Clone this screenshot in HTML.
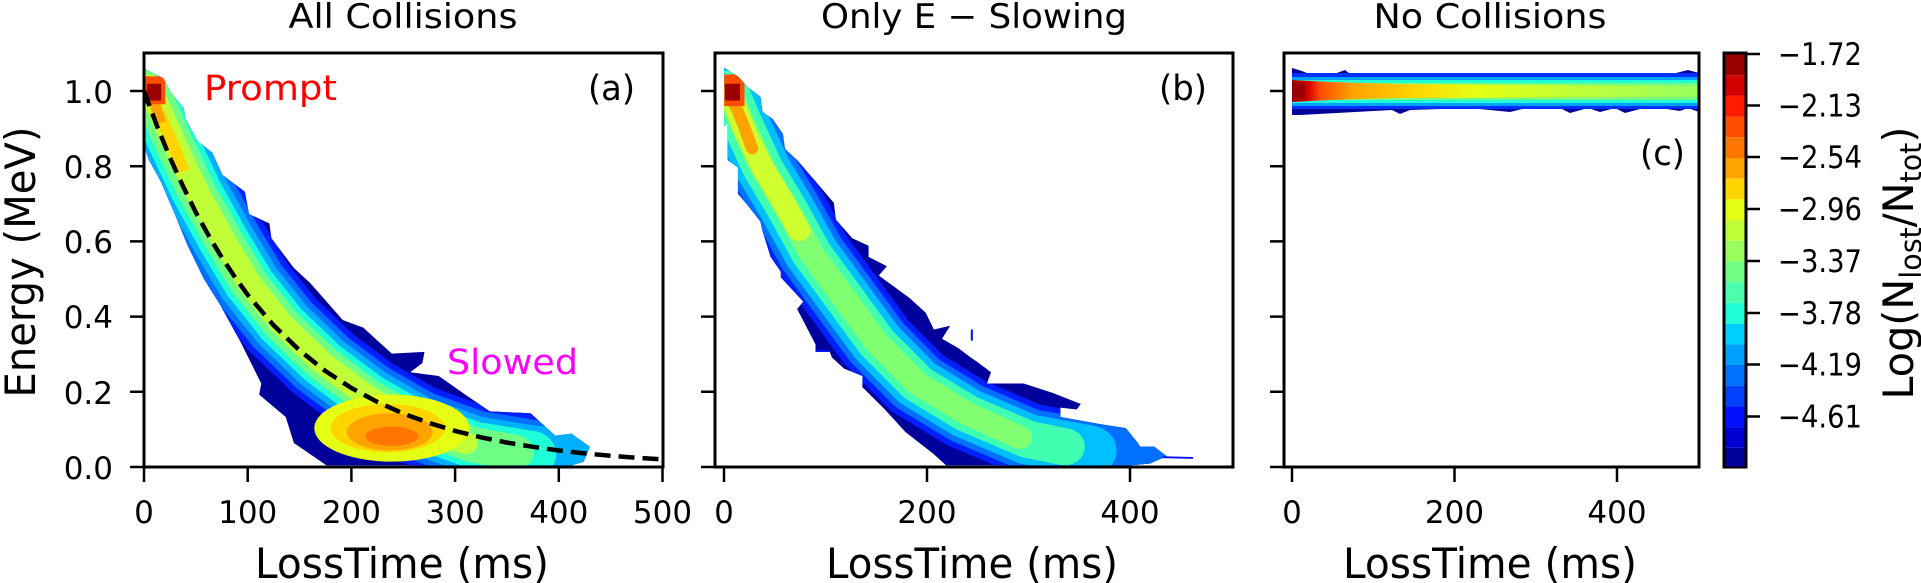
<!DOCTYPE html>
<html><head><meta charset="utf-8"><style>
html,body{margin:0;padding:0;background:#fff}
svg{display:block}
text{font-family:"DejaVu Sans","Liberation Sans",sans-serif;fill:#000}
</style></head><body>
<svg width="1921" height="583" viewBox="0 0 1921 583" xmlns="http://www.w3.org/2000/svg">
<defs>
<clipPath id="ca"><rect x="144" y="53" width="519" height="414"/></clipPath>
<clipPath id="cb"><rect x="715" y="53" width="518" height="414"/></clipPath>
<clipPath id="cc"><rect x="1284" y="53" width="415" height="414"/></clipPath>
<clipPath id="pa"><polygon points="355,185 400,210 420,250 450,290 455,320 485,380 520,410 545,470 600,515 610,575 660,600 665,640 720,720 760,760 840,860 890,880 960,950 1040,945 1035,975 1005,1000 1075,1010 1140,1060 1200,1105 1300,1110 1360,1170 1400,1165 1445,1200 1430,1240 1400,1250 800,1250 720,1190 700,1120 635,1060 640,1030 590,920 580,900 540,820 500,750 460,660 430,580 395,490 365,430 355,400"/></clipPath>
<clipPath id="pb"><polygon points="206,182 240,205 265,235 295,260 300,300 325,320 350,360 355,400 385,430 440,500 475,545 480,590 520,640 560,660 560,690 605,715 585,740 660,800 700,840 720,885 760,875 740,910 780,935 810,960 830,975 860,1000 850,1030 940,1030 1010,1055 1080,1085 1070,1100 1030,1095 1030,1120 1130,1140 1190,1150 1220,1190 1225,1200 1260,1200 1290,1225 1250,1245 1200,1250 750,1250 720,1220 650,1160 600,1100 545,1040 545,1010 500,990 470,960 465,945 430,940 430,925 385,830 400,810 345,745 345,730 320,690 300,620 295,595 270,560 240,520 240,450 215,430 215,330 206,340"/></clipPath>
<linearGradient id="gc" x1="1292" y1="0" x2="1699" y2="0" gradientUnits="userSpaceOnUse">
<stop offset="0" stop-color="#9a0000"/><stop offset="0.04" stop-color="#d40000"/><stop offset="0.07" stop-color="#ff4d00"/><stop offset="0.15" stop-color="#ffa300"/><stop offset="0.3" stop-color="#ffd500"/><stop offset="0.45" stop-color="#e5ff12"/><stop offset="0.7" stop-color="#bfff38"/><stop offset="1" stop-color="#98ff5f"/>
</linearGradient>
</defs>

<!-- Panel a data -->
<g clip-path="url(#ca)">
<g transform="scale(0.40816,0.37230)">
<g clip-path="url(#pa)">
<rect x="300" y="150" width="1300" height="1200" fill="#00009a"/>
<g fill="none" stroke-linejoin="round" stroke-linecap="round">
<path d="M365,230 L420,370 L480,510 L545,640 L610,760 L690,870 L790,975 L900,1065 L1020,1140 L1160,1195 L1300,1220 L1420,1228" stroke="#0020ff" stroke-width="215"/>
<path d="M365,230 L420,370 L480,510 L545,640 L610,760 L690,870 L790,975 L900,1065 L1020,1140 L1160,1195 L1300,1220 L1400,1228" stroke="#0070ff" stroke-width="185"/>
<path d="M365,230 L420,370 L480,510 L545,640 L610,760 L690,870 L790,975 L900,1065 L1020,1140 L1160,1195 L1300,1220 L1380,1228" stroke="#00b0ff" stroke-width="155"/>
<path d="M365,230 L420,370 L480,510 L545,640 L610,760 L690,870 L790,975 L900,1065 L1020,1140 L1160,1195 L1300,1220" stroke="#1effd8" stroke-width="125"/>
<path d="M365,230 L420,370 L480,510 L545,640 L610,760 L690,870 L790,975 L900,1065 L1020,1140 L1160,1195 L1260,1215" stroke="#70ff86" stroke-width="95"/>
<path d="M365,230 L420,370 L480,510 L545,640 L610,760 L690,870 L790,975 L900,1065 L1020,1140 L1140,1190" stroke="#c0ff37" stroke-width="60"/>
</g>
<ellipse cx="960" cy="1150" rx="190" ry="90" fill="#e5ff12"/>
<ellipse cx="950" cy="1150" rx="140" ry="65" fill="#ffd500"/>
<ellipse cx="955" cy="1160" rx="105" ry="50" fill="#ffa300"/>
<ellipse cx="960" cy="1172" rx="65" ry="26" fill="#ff7700"/>
<path d="M372,260 L420,380 L450,460" stroke="#ffd500" stroke-width="30" fill="none"/>
<path d="M370,250 L395,330" stroke="#ffa300" stroke-width="25" fill="none"/>
<rect x="355" y="205" width="50" height="75" fill="#ff4d00"/>
<rect x="360" y="225" width="35" height="45" fill="#9a0000"/>
</g>
</g>
<polyline fill="none" stroke="#000" stroke-width="4.5" stroke-dasharray="16,8" points="144,91 157,126 169.9,157.6 182.9,186 195.9,212.5 208.9,236 221.8,257.6 234.8,277 247.7,294.8 273.6,325.3 299.6,350.4 325.5,371.1 351.4,388 377.4,402 403.3,413.6 429.2,423 455.1,430.9 481,437.3 507,442.6 533,446.8 558.8,450.5 584.8,453.4 610.7,455.8 636.6,457.8 662.5,459.4"/>
</g>

<!-- Panel b data -->
<g clip-path="url(#cb)">
<g transform="translate(640,0) scale(0.40816,0.37230)">
<g clip-path="url(#pb)">
<rect x="150" y="150" width="1300" height="1200" fill="#00009a"/>
<g fill="none" stroke-linejoin="round" stroke-linecap="round">
<path d="M215,240 L250,330 L300,450 L360,560 L420,680 L500,800 L580,920 L680,1030 L800,1110 L950,1180 L1100,1210 L1250,1230" stroke="#0020ff" stroke-width="195"/>
<path d="M215,240 L250,330 L300,450 L360,560 L420,680 L500,800 L580,920 L680,1030 L800,1110 L950,1180 L1100,1210 L1220,1225" stroke="#0070ff" stroke-width="165"/>
<path d="M215,240 L250,330 L300,450 L360,560 L420,680 L500,800 L580,920 L680,1030 L800,1110 L950,1180 L1100,1210" stroke="#00c0ff" stroke-width="135"/>
<path d="M215,240 L250,330 L300,450 L360,560 L420,680 L500,800 L580,920 L680,1030 L800,1110 L950,1180 L1040,1200" stroke="#40ffb0" stroke-width="100"/>
<path d="M215,240 L250,330 L300,450 L360,560 L420,680 L500,800 L580,920 L680,1030 L800,1110 L930,1175" stroke="#80ff70" stroke-width="62"/>
<path d="M230,280 L260,360 L300,450 L350,540 L390,620" stroke="#d0ff30" stroke-width="55"/>
<path d="M225,260 L255,340 L275,400" stroke="#ffa300" stroke-width="30"/>
</g>
<rect x="206" y="200" width="50" height="85" fill="#ff4d00"/>
<rect x="208" y="225" width="37" height="45" fill="#9a0000"/>
</g>
<path d="M1280,1228 L1355,1230" stroke="#0010ff" stroke-width="5"/>
<path d="M430,943 L462,943" stroke="#0010ff" stroke-width="5"/>
<path d="M813,885 L813,915" stroke="#0010ff" stroke-width="5"/>
</g>
</g>

<!-- Panel c data -->
<g clip-path="url(#cc)">
<polygon fill="#00009a" points="1292,68 1302,71 1314,76 1334,74 1345,70 1353,76 1408,78 1449,76 1530,76 1600,76 1660,77 1688,70 1699,73 1699,112 1688,108 1680,111 1660,108 1640,109 1625,113 1615,108 1600,112 1588,108 1570,113 1560,108 1522,109 1510,112 1470,108 1410,110 1400,114 1392,110 1300,115 1292,115"/>
<rect x="1292" y="73" width="407" height="36" fill="#0030ff"/>
<rect x="1292" y="77" width="407" height="29" fill="#00a0ff"/>
<rect x="1292" y="80" width="407" height="23" fill="#1effd8"/>
<rect x="1292" y="83" width="407" height="17" fill="#72ff85"/>
<polygon fill="url(#gc)" points="1292,80 1330,82 1400,84 1699,86 1699,97 1400,98 1330,100 1292,102"/>
<rect x="1292" y="84" width="13" height="14" fill="#9a0000"/>
</g>

<!-- Axes frames -->
<g fill="none" stroke="#000" stroke-width="3">
<rect x="144" y="53" width="519" height="414"/>
<rect x="715" y="53" width="518" height="414"/>
<rect x="1284" y="53" width="415" height="414"/>
<rect x="1724" y="53" width="22" height="414"/>
</g>

<!-- Colorbar -->
<g>
<rect x="1725.5" y="54.5" width="19" height="20.7" fill="#9a0000"/>
<rect x="1725.5" y="75.2" width="19" height="20.7" fill="#d40000"/>
<rect x="1725.5" y="95.9" width="19" height="20.7" fill="#ff1a00"/>
<rect x="1725.5" y="116.6" width="19" height="20.7" fill="#ff4d00"/>
<rect x="1725.5" y="137.3" width="19" height="20.7" fill="#ff7700"/>
<rect x="1725.5" y="158" width="19" height="20.7" fill="#ffa300"/>
<rect x="1725.5" y="178.7" width="19" height="20.7" fill="#ffd500"/>
<rect x="1725.5" y="199.4" width="19" height="20.7" fill="#e5ff12"/>
<rect x="1725.5" y="220.1" width="19" height="20.7" fill="#bfff38"/>
<rect x="1725.5" y="240.8" width="19" height="20.7" fill="#98ff5f"/>
<rect x="1725.5" y="261.5" width="19" height="20.7" fill="#72ff85"/>
<rect x="1725.5" y="282.2" width="19" height="20.7" fill="#4bffac"/>
<rect x="1725.5" y="302.9" width="19" height="20.7" fill="#1effd8"/>
<rect x="1725.5" y="323.6" width="19" height="20.7" fill="#00d0ff"/>
<rect x="1725.5" y="344.3" width="19" height="20.7" fill="#00a0ff"/>
<rect x="1725.5" y="365" width="19" height="20.7" fill="#0070ff"/>
<rect x="1725.5" y="385.7" width="19" height="20.7" fill="#0040ff"/>
<rect x="1725.5" y="406.4" width="19" height="20.7" fill="#0010ff"/>
<rect x="1725.5" y="427.1" width="19" height="20.7" fill="#0000d5"/>
<rect x="1725.5" y="447.8" width="19" height="18.7" fill="#00009a"/>
</g>

<!-- Ticks -->
<g stroke="#000" stroke-width="2.5">
<path d="M130,467H144M130,391.8H144M130,316.6H144M130,241.4H144M130,166.2H144M130,91H144"/>
<path d="M701,467H715M701,391.8H715M701,316.6H715M701,241.4H715M701,166.2H715M701,91H715"/>
<path d="M1270,467H1284M1270,391.8H1284M1270,316.6H1284M1270,241.4H1284M1270,166.2H1284M1270,91H1284"/>
<path d="M144,467V482M247.7,467V482M351.4,467V482M455.1,467V482M558.8,467V482M662.5,467V482"/>
<path d="M724,467V482M927,467V482M1130,467V482"/>
<path d="M1292,467V482M1454.5,467V482M1617,467V482"/>
<path d="M1746,54H1760M1746,105.5H1760M1746,157H1760M1746,209H1760M1746,261H1760M1746,313H1760M1746,364.5H1760M1746,416.5H1760"/>
</g>

<!-- Tick labels -->
<g font-size="31" text-anchor="end">
<text x="113" y="479">0.0</text>
<text x="113" y="404">0.2</text>
<text x="113" y="328">0.4</text>
<text x="113" y="253">0.6</text>
<text x="113" y="178">0.8</text>
<text x="113" y="103">1.0</text>
</g>
<g font-size="31" text-anchor="middle">
<text x="144" y="523">0</text>
<text x="247.7" y="523">100</text>
<text x="351.4" y="523">200</text>
<text x="455.1" y="523">300</text>
<text x="558.8" y="523">400</text>
<text x="662.5" y="523">500</text>
<text x="724" y="523">0</text>
<text x="927" y="523">200</text>
<text x="1130" y="523">400</text>
<text x="1292" y="523">0</text>
<text x="1454.5" y="523">200</text>
<text x="1617" y="523">400</text>
</g>
<g font-size="31">
<text x="1778" y="65" textLength="84" lengthAdjust="spacingAndGlyphs">−1.72</text>
<text x="1778" y="116.5" textLength="84" lengthAdjust="spacingAndGlyphs">−2.13</text>
<text x="1778" y="168" textLength="84" lengthAdjust="spacingAndGlyphs">−2.54</text>
<text x="1778" y="220" textLength="84" lengthAdjust="spacingAndGlyphs">−2.96</text>
<text x="1778" y="272" textLength="84" lengthAdjust="spacingAndGlyphs">−3.37</text>
<text x="1778" y="324" textLength="84" lengthAdjust="spacingAndGlyphs">−3.78</text>
<text x="1778" y="375.5" textLength="84" lengthAdjust="spacingAndGlyphs">−4.19</text>
<text x="1778" y="427.5" textLength="84" lengthAdjust="spacingAndGlyphs">−4.61</text>
</g>

<!-- Titles & labels -->
<g font-size="34" text-anchor="middle">
<text x="403" y="28" textLength="229" lengthAdjust="spacingAndGlyphs">All Collisions</text>
<text x="974" y="28" textLength="306" lengthAdjust="spacingAndGlyphs">Only E − Slowing</text>
<text x="1490" y="28" textLength="233" lengthAdjust="spacingAndGlyphs">No Collisions</text>
</g>
<g font-size="42" text-anchor="middle">
<text x="402" y="578" textLength="294" lengthAdjust="spacingAndGlyphs">LossTime (ms)</text>
<text x="972" y="578" textLength="292" lengthAdjust="spacingAndGlyphs">LossTime (ms)</text>
<text x="1490" y="578" textLength="294" lengthAdjust="spacingAndGlyphs">LossTime (ms)</text>
<text transform="translate(35,262) rotate(-90)" textLength="271" lengthAdjust="spacingAndGlyphs">Energy (MeV)</text>
<text transform="translate(1913,263) rotate(-90)" textLength="273" lengthAdjust="spacingAndGlyphs">Log(N<tspan font-size="29" dy="8">lost</tspan><tspan dy="-8">/N</tspan><tspan font-size="29" dy="8">tot</tspan><tspan dy="-8">)</tspan></text>
</g>
<g font-size="35">
<text x="204" y="100" style="fill:#ff0000" textLength="133" lengthAdjust="spacingAndGlyphs">Prompt</text>
<text x="447" y="374" style="fill:#ff00ff" textLength="131" lengthAdjust="spacingAndGlyphs">Slowed</text>
<text x="588" y="100" textLength="47" lengthAdjust="spacingAndGlyphs">(a)</text>
<text x="1159" y="100" textLength="48" lengthAdjust="spacingAndGlyphs">(b)</text>
<text x="1640" y="165" textLength="45" lengthAdjust="spacingAndGlyphs">(c)</text>
</g>
</svg>
</body></html>
